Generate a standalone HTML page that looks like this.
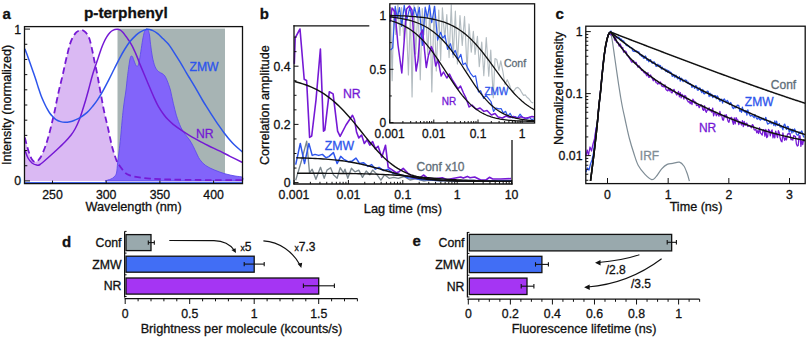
<!DOCTYPE html>
<html><head><meta charset="utf-8"><style>
html,body{margin:0;padding:0;background:#fff;overflow:hidden;}
svg{display:block;font-family:"Liberation Sans",sans-serif;}

</style></head><body>
<svg width="808" height="337" viewBox="0 0 808 337">
<rect width="808" height="337" fill="#fff"/>
<path d="M24.80,137.50C25.17,138.92 26.22,143.25 27.00,146.00C27.78,148.75 28.67,151.75 29.50,154.00C30.33,156.25 31.18,158.20 32.00,159.50C32.82,160.80 33.57,161.52 34.40,161.80C35.23,162.08 36.23,161.58 37.00,161.20C37.77,160.82 38.40,160.15 39.00,159.50C39.60,158.85 39.93,158.50 40.60,157.30C41.27,156.10 42.18,154.18 43.00,152.30C43.82,150.42 44.68,148.30 45.50,146.00C46.32,143.70 47.12,141.17 47.90,138.50C48.68,135.83 49.43,133.00 50.20,130.00C50.97,127.00 51.77,123.58 52.50,120.50C53.23,117.42 53.88,114.83 54.60,111.50C55.32,108.17 55.98,104.42 56.80,100.50C57.62,96.58 58.52,92.25 59.50,88.00C60.48,83.75 61.70,79.33 62.70,75.00C63.70,70.67 64.63,65.83 65.50,62.00C66.37,58.17 67.15,55.00 67.90,52.00C68.65,49.00 69.15,46.50 70.00,44.00C70.85,41.50 71.92,38.97 73.00,37.00C74.08,35.03 75.23,33.35 76.50,32.20C77.77,31.05 79.30,30.27 80.60,30.10C81.90,29.93 83.18,30.47 84.30,31.20C85.42,31.93 86.43,33.20 87.30,34.50C88.17,35.80 88.85,37.17 89.50,39.00C90.15,40.83 90.65,43.17 91.20,45.50C91.75,47.83 92.27,50.42 92.80,53.00C93.33,55.58 93.70,57.67 94.40,61.00C95.10,64.33 96.23,69.17 97.00,73.00C97.77,76.83 98.32,80.28 99.00,84.00C99.68,87.72 100.40,91.47 101.10,95.30C101.80,99.13 102.45,103.22 103.20,107.00C103.95,110.78 104.80,114.50 105.60,118.00C106.40,121.50 107.23,124.58 108.00,128.00C108.77,131.42 109.48,135.25 110.20,138.50C110.92,141.75 111.57,144.75 112.30,147.50C113.03,150.25 113.82,152.67 114.60,155.00C115.38,157.33 116.02,159.50 117.00,161.50C117.98,163.50 119.07,165.05 120.50,167.00C121.93,168.95 124.02,171.80 125.60,173.20C127.18,174.60 127.98,174.73 130.00,175.40C132.02,176.07 134.37,176.67 137.70,177.20C141.03,177.73 144.62,178.22 150.00,178.60C155.38,178.98 161.67,179.27 170.00,179.50C178.33,179.73 187.92,179.88 200.00,180.00C212.08,180.12 235.42,180.17 242.50,180.20L242.5,180.9L25.2,180.9Z" fill="#dab9f3"/>
<rect x="117.5" y="28.6" width="107.5" height="152.3" fill="#a7b4b4"/>
<path d="M105.00,180.90C105.50,180.75 107.00,180.32 108.00,180.00C109.00,179.68 110.00,179.50 111.00,179.00C112.00,178.50 113.08,178.00 114.00,177.00C114.92,176.00 115.90,175.33 116.50,173.00C117.10,170.67 117.18,166.50 117.60,163.00C118.02,159.50 118.50,156.20 119.00,152.00C119.50,147.80 120.10,142.80 120.60,137.80C121.10,132.80 121.57,126.63 122.00,122.00C122.43,117.37 122.78,113.67 123.20,110.00C123.62,106.33 124.03,103.33 124.50,100.00C124.97,96.67 125.53,93.67 126.00,90.00C126.47,86.33 126.90,81.42 127.30,78.00C127.70,74.58 127.98,72.50 128.40,69.50C128.82,66.50 129.37,62.20 129.80,60.00C130.23,57.80 130.58,56.90 131.00,56.30C131.42,55.70 131.87,55.87 132.30,56.40C132.73,56.93 133.07,58.15 133.60,59.50C134.13,60.85 134.88,63.33 135.50,64.50C136.12,65.67 136.72,66.83 137.30,66.50C137.88,66.17 138.42,64.97 139.00,62.50C139.58,60.03 140.20,55.43 140.80,51.70C141.40,47.97 142.03,43.30 142.60,40.10C143.17,36.90 143.70,34.25 144.20,32.50C144.70,30.75 145.13,30.18 145.60,29.60C146.07,29.02 146.55,28.85 147.00,29.00C147.45,29.15 147.88,29.50 148.30,30.50C148.72,31.50 149.12,32.65 149.50,35.00C149.88,37.35 150.12,40.93 150.60,44.60C151.08,48.27 151.65,53.30 152.40,57.00C153.15,60.70 154.07,64.37 155.10,66.80C156.13,69.23 157.42,70.47 158.60,71.60C159.78,72.73 161.17,72.88 162.20,73.60C163.23,74.32 164.00,74.80 164.80,75.90C165.60,77.00 166.37,78.77 167.00,80.20C167.63,81.63 168.03,82.87 168.60,84.50C169.17,86.13 169.87,88.00 170.40,90.00C170.93,92.00 171.32,94.28 171.80,96.50C172.28,98.72 172.80,101.13 173.30,103.30C173.80,105.47 174.30,107.52 174.80,109.50C175.30,111.48 175.68,113.20 176.30,115.20C176.92,117.20 177.77,119.53 178.50,121.50C179.23,123.47 179.95,125.42 180.70,127.00C181.45,128.58 182.25,129.77 183.00,131.00C183.75,132.23 184.10,132.90 185.20,134.40C186.30,135.90 188.33,138.15 189.60,140.00C190.87,141.85 191.83,143.70 192.80,145.50C193.77,147.30 194.23,148.47 195.40,150.80C196.57,153.13 198.07,157.03 199.80,159.50C201.53,161.97 203.32,163.83 205.80,165.60C208.28,167.37 211.48,168.73 214.70,170.10C217.92,171.47 221.72,172.82 225.10,173.80C228.48,174.78 232.10,175.42 235.00,176.00C237.90,176.58 241.25,176.48 242.50,177.30C243.75,178.12 242.50,180.30 242.50,180.90Z" fill="#8264fa" stroke="#5f4cec" stroke-width="0.9"/>
<path d="M24.80,137.50C25.17,138.92 26.22,143.25 27.00,146.00C27.78,148.75 28.67,151.75 29.50,154.00C30.33,156.25 31.18,158.20 32.00,159.50C32.82,160.80 33.57,161.52 34.40,161.80C35.23,162.08 36.23,161.58 37.00,161.20C37.77,160.82 38.40,160.15 39.00,159.50C39.60,158.85 39.93,158.50 40.60,157.30C41.27,156.10 42.18,154.18 43.00,152.30C43.82,150.42 44.68,148.30 45.50,146.00C46.32,143.70 47.12,141.17 47.90,138.50C48.68,135.83 49.43,133.00 50.20,130.00C50.97,127.00 51.77,123.58 52.50,120.50C53.23,117.42 53.88,114.83 54.60,111.50C55.32,108.17 55.98,104.42 56.80,100.50C57.62,96.58 58.52,92.25 59.50,88.00C60.48,83.75 61.70,79.33 62.70,75.00C63.70,70.67 64.63,65.83 65.50,62.00C66.37,58.17 67.15,55.00 67.90,52.00C68.65,49.00 69.15,46.50 70.00,44.00C70.85,41.50 71.92,38.97 73.00,37.00C74.08,35.03 75.23,33.35 76.50,32.20C77.77,31.05 79.30,30.27 80.60,30.10C81.90,29.93 83.18,30.47 84.30,31.20C85.42,31.93 86.43,33.20 87.30,34.50C88.17,35.80 88.85,37.17 89.50,39.00C90.15,40.83 90.65,43.17 91.20,45.50C91.75,47.83 92.27,50.42 92.80,53.00C93.33,55.58 93.70,57.67 94.40,61.00C95.10,64.33 96.23,69.17 97.00,73.00C97.77,76.83 98.32,80.28 99.00,84.00C99.68,87.72 100.40,91.47 101.10,95.30C101.80,99.13 102.45,103.22 103.20,107.00C103.95,110.78 104.80,114.50 105.60,118.00C106.40,121.50 107.23,124.58 108.00,128.00C108.77,131.42 109.48,135.25 110.20,138.50C110.92,141.75 111.57,144.75 112.30,147.50C113.03,150.25 113.82,152.67 114.60,155.00C115.38,157.33 116.02,159.50 117.00,161.50C117.98,163.50 119.07,165.05 120.50,167.00C121.93,168.95 124.02,171.80 125.60,173.20C127.18,174.60 127.98,174.73 130.00,175.40C132.02,176.07 134.37,176.67 137.70,177.20C141.03,177.73 144.62,178.22 150.00,178.60C155.38,178.98 161.67,179.27 170.00,179.50C178.33,179.73 187.92,179.88 200.00,180.00C212.08,180.12 235.42,180.17 242.50,180.20" fill="none" stroke="#7519d5" stroke-width="1.8" stroke-dasharray="6.5,3.6"/>
<path d="M24.80,150.00C25.33,151.33 26.80,155.83 28.00,158.00C29.20,160.17 30.57,161.83 32.00,163.00C33.43,164.17 35.27,164.75 36.60,165.00C37.93,165.25 38.05,165.75 40.00,164.50C41.95,163.25 45.53,159.92 48.30,157.50C51.07,155.08 53.83,152.58 56.60,150.00C59.37,147.42 62.48,144.50 64.90,142.00C67.32,139.50 69.37,137.25 71.10,135.00C72.83,132.75 73.92,131.08 75.30,128.50C76.68,125.92 78.18,122.58 79.40,119.50C80.62,116.42 81.55,113.25 82.60,110.00C83.65,106.75 84.72,103.33 85.70,100.00C86.68,96.67 87.32,94.33 88.50,90.00C89.68,85.67 91.22,79.25 92.80,74.00C94.38,68.75 96.65,62.55 98.00,58.50C99.35,54.45 99.93,52.37 100.90,49.70C101.87,47.03 102.80,44.67 103.80,42.50C104.80,40.33 105.90,38.32 106.90,36.70C107.90,35.08 108.82,33.85 109.80,32.80C110.78,31.75 111.62,30.98 112.80,30.40C113.98,29.82 115.70,29.38 116.90,29.30C118.10,29.22 119.02,29.40 120.00,29.90C120.98,30.40 121.82,31.23 122.80,32.30C123.78,33.37 124.95,35.02 125.90,36.30C126.85,37.58 127.70,38.82 128.50,40.00C129.30,41.18 129.95,42.13 130.70,43.40C131.45,44.67 132.22,46.02 133.00,47.60C133.78,49.18 134.60,51.07 135.40,52.90C136.20,54.73 137.02,56.65 137.80,58.60C138.58,60.55 138.55,60.82 140.10,64.60C141.65,68.38 144.75,75.75 147.10,81.30C149.45,86.85 152.30,93.67 154.20,97.90C156.10,102.13 156.92,103.93 158.50,106.70C160.08,109.47 162.12,112.35 163.70,114.50C165.28,116.65 166.42,117.97 168.00,119.60C169.58,121.23 170.75,122.38 173.20,124.30C175.65,126.22 179.53,128.97 182.70,131.10C185.87,133.23 189.32,135.40 192.20,137.10C195.08,138.80 197.37,139.90 200.00,141.30C202.63,142.70 204.67,143.85 208.00,145.50C211.33,147.15 216.33,149.40 220.00,151.20C223.67,153.00 226.25,154.42 230.00,156.30C233.75,158.18 240.42,161.47 242.50,162.50" fill="none" stroke="#7519d5" stroke-width="1.5"/>
<path d="M24.80,48.80C24.93,49.12 25.07,49.28 25.60,50.70C26.13,52.12 27.22,55.12 28.00,57.30C28.78,59.48 29.47,61.43 30.30,63.80C31.13,66.17 32.10,68.92 33.00,71.50C33.90,74.08 34.82,76.63 35.70,79.30C36.58,81.97 37.42,84.80 38.30,87.50C39.18,90.20 40.05,93.00 41.00,95.50C41.95,98.00 43.05,100.42 44.00,102.50C44.95,104.58 45.78,106.28 46.70,108.00C47.62,109.72 48.47,111.33 49.50,112.80C50.53,114.27 51.82,115.67 52.90,116.80C53.98,117.93 54.72,118.80 56.00,119.60C57.28,120.40 59.12,121.15 60.60,121.60C62.08,122.05 63.33,122.28 64.90,122.30C66.47,122.32 68.38,122.05 70.00,121.70C71.62,121.35 72.98,120.85 74.60,120.20C76.22,119.55 77.60,119.10 79.70,117.80C81.80,116.50 84.97,114.42 87.20,112.40C89.43,110.38 91.38,107.80 93.10,105.70C94.82,103.60 95.90,102.20 97.50,99.80C99.10,97.40 100.80,94.67 102.70,91.30C104.60,87.93 106.98,83.32 108.90,79.60C110.82,75.88 112.42,72.55 114.20,69.00C115.98,65.45 117.82,61.63 119.60,58.30C121.38,54.97 123.13,51.83 124.90,49.00C126.67,46.17 128.42,43.53 130.20,41.30C131.98,39.07 133.97,37.13 135.60,35.60C137.23,34.07 138.10,33.17 140.00,32.10C141.90,31.03 144.93,29.48 147.00,29.20C149.07,28.92 150.62,29.67 152.40,30.40C154.18,31.13 155.92,32.20 157.70,33.60C159.48,35.00 161.33,37.07 163.10,38.80C164.87,40.53 166.75,42.17 168.30,44.00C169.85,45.83 171.03,47.75 172.40,49.80C173.77,51.85 175.08,54.05 176.50,56.30C177.92,58.55 179.25,60.53 180.90,63.30C182.55,66.07 184.80,70.18 186.40,72.90C188.00,75.62 189.08,77.27 190.50,79.60C191.92,81.93 193.52,84.57 194.90,86.90C196.28,89.23 197.55,91.42 198.80,93.60C200.05,95.78 201.12,97.82 202.40,100.00C203.68,102.18 205.08,104.43 206.50,106.70C207.92,108.97 209.43,111.33 210.90,113.60C212.37,115.87 213.82,118.08 215.30,120.30C216.78,122.52 218.35,124.82 219.80,126.90C221.25,128.98 222.62,130.97 224.00,132.80C225.38,134.63 226.43,135.95 228.10,137.90C229.77,139.85 231.90,142.40 234.00,144.50C236.10,146.60 239.28,149.27 240.70,150.50C242.12,151.73 242.20,151.67 242.50,151.90" fill="none" stroke="#2d55ec" stroke-width="1.5"/>
<line x1="25" y1="182.6" x2="242" y2="182.6" stroke="#2d55ec" stroke-width="1"/>
<rect x="24.5" y="26.6" width="218.0" height="157.0" fill="none" stroke="#111" stroke-width="1.3"/>
<line x1="24.5" y1="180.9" x2="30.0" y2="180.9" stroke="#111" stroke-width="1"/>
<line x1="24.5" y1="165.72" x2="27.3" y2="165.72" stroke="#111" stroke-width="1"/>
<line x1="24.5" y1="150.54" x2="27.3" y2="150.54" stroke="#111" stroke-width="1"/>
<line x1="24.5" y1="135.36" x2="27.3" y2="135.36" stroke="#111" stroke-width="1"/>
<line x1="24.5" y1="120.18" x2="27.3" y2="120.18" stroke="#111" stroke-width="1"/>
<line x1="24.5" y1="105.0" x2="27.3" y2="105.0" stroke="#111" stroke-width="1"/>
<line x1="24.5" y1="89.82000000000001" x2="27.3" y2="89.82000000000001" stroke="#111" stroke-width="1"/>
<line x1="24.5" y1="74.64" x2="27.3" y2="74.64" stroke="#111" stroke-width="1"/>
<line x1="24.5" y1="59.459999999999994" x2="27.3" y2="59.459999999999994" stroke="#111" stroke-width="1"/>
<line x1="24.5" y1="44.28" x2="27.3" y2="44.28" stroke="#111" stroke-width="1"/>
<line x1="24.5" y1="29.099999999999994" x2="30.0" y2="29.099999999999994" stroke="#111" stroke-width="1"/>
<line x1="52.5" y1="183.6" x2="52.5" y2="180.6" stroke="#111" stroke-width="1"/>
<line x1="106.2" y1="183.6" x2="106.2" y2="180.6" stroke="#111" stroke-width="1"/>
<line x1="159.9" y1="183.6" x2="159.9" y2="180.6" stroke="#111" stroke-width="1"/>
<line x1="213.60000000000002" y1="183.6" x2="213.60000000000002" y2="180.6" stroke="#111" stroke-width="1"/>
<text x="21" y="33.6" font-size="12.3" text-anchor="end" fill="#111" stroke="#111" stroke-width="0.3" font-weight="normal" >1</text>
<text x="21" y="185.3" font-size="12.3" text-anchor="end" fill="#111" stroke="#111" stroke-width="0.3" font-weight="normal" >0</text>
<text x="52.5" y="199.2" font-size="12.3" text-anchor="middle" fill="#111" stroke="#111" stroke-width="0.3" font-weight="normal" >250</text>
<text x="106.2" y="199.2" font-size="12.3" text-anchor="middle" fill="#111" stroke="#111" stroke-width="0.3" font-weight="normal" >300</text>
<text x="159.9" y="199.2" font-size="12.3" text-anchor="middle" fill="#111" stroke="#111" stroke-width="0.3" font-weight="normal" >350</text>
<text x="213.60000000000002" y="199.2" font-size="12.3" text-anchor="middle" fill="#111" stroke="#111" stroke-width="0.3" font-weight="normal" >400</text>
<text x="133.6" y="211.2" font-size="12.7" text-anchor="middle" fill="#111" stroke="#111" stroke-width="0.3" font-weight="normal" >Wavelength (nm)</text>
<text x="0" y="0" font-size="12.6" text-anchor="middle" fill="#111" stroke="#111" stroke-width="0.3" transform="translate(11.3,104.9) rotate(-90)">Intensity (normalized)</text>
<text x="125.8" y="17.9" font-size="15.4" text-anchor="middle" fill="#111" stroke="#111" stroke-width="0.3" font-weight="bold" >p-terphenyl</text>
<text x="2.6" y="18.7" font-size="15" text-anchor="start" fill="#111" stroke="#111" stroke-width="0.3" font-weight="bold" >a</text>
<text x="204" y="70.7" font-size="12.2" text-anchor="middle" fill="#2d55ec" stroke="#2d55ec" stroke-width="0.3" font-weight="normal" >ZMW</text>
<text x="204.7" y="137.9" font-size="12.2" text-anchor="middle" fill="#7519d5" stroke="#7519d5" stroke-width="0.3" font-weight="normal" >NR</text>
<path d="M295.70,180.20L301.20,161.80L306.70,141.20L309.50,172.80L312.20,169.20L315.90,179.30L320.50,167.30L324.20,178.30L327.00,170.10L330.60,167.70L333.40,174.70L337.10,178.30L340.20,167.70L343.50,172.80L345.00,169.20L347.80,178.30L351.40,168.20L355.10,171.90L358.80,170.10L362.50,177.40L366.20,171.00L369.80,174.70L372.60,170.10L376.30,173.70L380.90,180.20L384.60,174.70L389.10,178.30L393.70,177.40L398.30,178.30L404.00,176.50L410.00,180.00L416.00,178.50L424.00,181.00L432.00,179.50L440.00,181.00L450.00,180.20L462.00,181.20L480.00,180.80L511.00,181.00" fill="none" stroke="#7b878e" stroke-width="1.35" stroke-linejoin="round"/>
<path d="M295.70,164.60L300.30,143.40L304.50,163.60L308.90,143.40L312.20,155.40L315.00,154.40L318.70,155.40L322.40,154.40L326.00,157.70L328.80,156.60L333.40,152.60L337.10,163.60L340.70,156.30L343.50,159.00L345.00,160.00L348.70,161.80L352.40,160.90L356.00,158.10L359.70,163.60L363.40,162.70L368.00,166.40L371.70,164.60L375.40,169.20L379.00,167.30L383.60,170.60L388.20,169.20L392.80,173.20L398.30,174.30L403.00,175.50L408.00,177.80L414.00,178.20L420.00,179.50L428.00,179.80L436.00,180.50L446.00,180.30L456.00,181.00L470.00,180.60L490.00,181.00L511.00,180.80" fill="none" stroke="#2d55ec" stroke-width="1.5" stroke-linejoin="round"/>
<path d="M294.30,63.90L295.20,37.80L300.00,29.00L304.20,79.30L306.60,80.50L309.60,137.40L311.70,136.00L316.00,100.00L320.40,49.00L323.50,131.20L324.80,130.20L329.30,91.80L333.10,93.90L337.60,131.20L340.10,136.40L346.00,125.00L352.50,115.30L354.50,119.80L356.60,132.30L358.80,137.90L361.60,135.10L364.30,143.40L367.10,139.70L369.80,145.20L372.60,141.60L375.40,148.90L378.10,146.20L381.80,157.20L385.50,145.20L388.20,167.30L391.00,169.20L393.70,171.00L396.50,172.80L399.10,171.70L403.20,168.40L408.00,173.30L412.90,177.40L419.50,178.20L423.50,175.00L427.60,178.20L434.10,178.70L442.30,177.70L447.20,179.80L451.30,178.70L456.70,177.70L460.70,177.00L463.30,178.10L467.40,176.40L470.00,177.70L474.70,177.00L480.70,180.00L486.00,180.00L489.40,177.30L492.70,179.00L500.70,179.00L511.00,178.60" fill="none" stroke="#7519d5" stroke-width="1.6" stroke-linejoin="round"/>
<path d="M294.60,81.55L297.31,82.23L300.02,82.98L302.73,83.80L305.45,84.72L308.16,85.73L310.87,86.84L313.58,88.06L316.29,89.40L319.00,90.86L321.71,92.46L324.42,94.19L327.13,96.07L329.85,98.10L332.56,100.28L335.27,102.62L337.98,105.11L340.69,107.75L343.40,110.53L346.11,113.45L348.83,116.50L351.54,119.65L354.25,122.89L356.96,126.20L359.67,129.56L362.38,132.94L365.09,136.32L367.80,139.66L370.51,142.95L373.23,146.15L375.94,149.24L378.65,152.20L381.36,155.02L384.07,157.68L386.78,160.17L389.49,162.48L392.21,164.61L394.92,166.57L397.63,168.34L400.34,169.95L403.05,171.39L405.76,172.68L408.47,173.83L411.18,174.84L413.89,175.74L416.61,176.52L419.32,177.20L422.03,177.80L424.74,178.32L427.45,178.76L430.16,179.15L432.87,179.48L435.59,179.77L438.30,180.01L441.01,180.22L443.72,180.40L446.43,180.55L449.14,180.68L451.85,180.79L454.56,180.88L457.27,180.96L459.99,181.03L462.70,181.09L465.41,181.14L468.12,181.18L470.83,181.21L473.54,181.24L476.25,181.27L478.97,181.29L481.68,181.30L484.39,181.32L487.10,181.33L489.81,181.34L492.52,181.35L495.23,181.36L497.94,181.37L500.65,181.37L503.37,181.38L506.08,181.38L508.79,181.38L511.50,181.39" fill="none" stroke="#111" stroke-width="1.4"/>
<path d="M296.30,157.78L298.99,157.85L301.68,157.93L304.37,158.01L307.06,158.11L309.75,158.21L312.44,158.33L315.13,158.46L317.82,158.60L320.51,158.76L323.20,158.94L325.89,159.14L328.58,159.35L331.27,159.59L333.96,159.85L336.65,160.14L339.34,160.46L342.03,160.80L344.72,161.17L347.41,161.58L350.10,162.02L352.79,162.49L355.48,163.00L358.17,163.54L360.86,164.11L363.55,164.72L366.24,165.36L368.93,166.04L371.62,166.74L374.31,167.46L377.00,168.20L379.69,168.95L382.38,169.72L385.07,170.49L387.76,171.25L390.45,172.01L393.14,172.75L395.83,173.47L398.52,174.17L401.21,174.84L403.90,175.47L406.59,176.07L409.28,176.63L411.97,177.15L414.66,177.63L417.35,178.06L420.04,178.46L422.73,178.82L425.42,179.14L428.11,179.43L430.80,179.69L433.49,179.92L436.18,180.12L438.87,180.30L441.56,180.45L444.25,180.58L446.94,180.70L449.63,180.80L452.32,180.89L455.01,180.96L457.70,181.03L460.39,181.08L463.08,181.13L465.77,181.17L468.46,181.21L471.15,181.23L473.84,181.26L476.53,181.28L479.22,181.30L481.91,181.31L484.60,181.33L487.29,181.34L489.98,181.35L492.67,181.36L495.36,181.36L498.05,181.37L500.74,181.37L503.43,181.38L506.12,181.38L508.81,181.38L511.50,181.39" fill="none" stroke="#111" stroke-width="1.4"/>
<path d="M297.00,173.24L299.68,173.25L302.36,173.25L305.04,173.26L307.73,173.26L310.41,173.27L313.09,173.28L315.77,173.29L318.45,173.30L321.13,173.31L323.81,173.32L326.49,173.34L329.18,173.36L331.86,173.37L334.54,173.39L337.22,173.42L339.90,173.44L342.58,173.47L345.26,173.50L347.94,173.54L350.62,173.57L353.31,173.62L355.99,173.66L358.67,173.72L361.35,173.77L364.03,173.84L366.71,173.91L369.39,173.98L372.07,174.07L374.76,174.16L377.44,174.26L380.12,174.37L382.80,174.49L385.48,174.62L388.16,174.75L390.84,174.90L393.52,175.06L396.21,175.23L398.89,175.41L401.57,175.60L404.25,175.79L406.93,176.00L409.61,176.21L412.29,176.43L414.98,176.65L417.66,176.88L420.34,177.11L423.02,177.35L425.70,177.58L428.38,177.81L431.06,178.04L433.74,178.26L436.43,178.48L439.11,178.69L441.79,178.89L444.47,179.08L447.15,179.27L449.83,179.44L452.51,179.60L455.19,179.76L457.88,179.90L460.56,180.04L463.24,180.16L465.92,180.27L468.60,180.38L471.28,180.48L473.96,180.57L476.64,180.65L479.32,180.72L482.01,180.79L484.69,180.85L487.37,180.91L490.05,180.96L492.73,181.00L495.41,181.04L498.09,181.08L500.77,181.11L503.46,181.14L506.14,181.17L508.82,181.19L511.50,181.21" fill="none" stroke="#111" stroke-width="1.4"/>
<line x1="293.4" y1="25.9" x2="369.5" y2="25.9" stroke="#111" stroke-width="1.3"/>
<line x1="294" y1="25.3" x2="294" y2="184.6" stroke="#111" stroke-width="1.3"/>
<line x1="293.4" y1="184" x2="512.6" y2="184" stroke="#111" stroke-width="1.3"/>
<line x1="512" y1="139.5" x2="512" y2="184.6" stroke="#111" stroke-width="1.3"/>
<line x1="294" y1="182.6" x2="298.5" y2="182.6" stroke="#111" stroke-width="1"/>
<line x1="294" y1="168.04999999999998" x2="296.5" y2="168.04999999999998" stroke="#111" stroke-width="1"/>
<line x1="294" y1="153.5" x2="296.5" y2="153.5" stroke="#111" stroke-width="1"/>
<line x1="294" y1="138.95" x2="296.5" y2="138.95" stroke="#111" stroke-width="1"/>
<line x1="294" y1="124.39999999999999" x2="298.5" y2="124.39999999999999" stroke="#111" stroke-width="1"/>
<line x1="294" y1="109.85" x2="296.5" y2="109.85" stroke="#111" stroke-width="1"/>
<line x1="294" y1="95.29999999999998" x2="296.5" y2="95.29999999999998" stroke="#111" stroke-width="1"/>
<line x1="294" y1="80.74999999999999" x2="296.5" y2="80.74999999999999" stroke="#111" stroke-width="1"/>
<line x1="294" y1="66.19999999999999" x2="298.5" y2="66.19999999999999" stroke="#111" stroke-width="1"/>
<line x1="294" y1="51.64999999999998" x2="296.5" y2="51.64999999999998" stroke="#111" stroke-width="1"/>
<line x1="294" y1="37.099999999999994" x2="296.5" y2="37.099999999999994" stroke="#111" stroke-width="1"/>
<line x1="294.0" y1="184" x2="294.0" y2="180" stroke="#111" stroke-width="1"/>
<line x1="310.37603176412057" y1="184" x2="310.37603176412057" y2="181.8" stroke="#111" stroke-width="1"/>
<line x1="319.9553962567496" y1="184" x2="319.9553962567496" y2="181.8" stroke="#111" stroke-width="1"/>
<line x1="326.75206352824114" y1="184" x2="326.75206352824114" y2="181.8" stroke="#111" stroke-width="1"/>
<line x1="332.0239682358794" y1="184" x2="332.0239682358794" y2="181.8" stroke="#111" stroke-width="1"/>
<line x1="336.3314280208702" y1="184" x2="336.3314280208702" y2="181.8" stroke="#111" stroke-width="1"/>
<line x1="339.9733333767756" y1="184" x2="339.9733333767756" y2="181.8" stroke="#111" stroke-width="1"/>
<line x1="343.1280952923617" y1="184" x2="343.1280952923617" y2="181.8" stroke="#111" stroke-width="1"/>
<line x1="345.91079251349925" y1="184" x2="345.91079251349925" y2="181.8" stroke="#111" stroke-width="1"/>
<line x1="348.4" y1="184" x2="348.4" y2="180" stroke="#111" stroke-width="1"/>
<line x1="364.7760317641206" y1="184" x2="364.7760317641206" y2="181.8" stroke="#111" stroke-width="1"/>
<line x1="374.3553962567496" y1="184" x2="374.3553962567496" y2="181.8" stroke="#111" stroke-width="1"/>
<line x1="381.1520635282412" y1="184" x2="381.1520635282412" y2="181.8" stroke="#111" stroke-width="1"/>
<line x1="386.42396823587944" y1="184" x2="386.42396823587944" y2="181.8" stroke="#111" stroke-width="1"/>
<line x1="390.7314280208702" y1="184" x2="390.7314280208702" y2="181.8" stroke="#111" stroke-width="1"/>
<line x1="394.3733333767756" y1="184" x2="394.3733333767756" y2="181.8" stroke="#111" stroke-width="1"/>
<line x1="397.52809529236174" y1="184" x2="397.52809529236174" y2="181.8" stroke="#111" stroke-width="1"/>
<line x1="400.3107925134993" y1="184" x2="400.3107925134993" y2="181.8" stroke="#111" stroke-width="1"/>
<line x1="402.8" y1="184" x2="402.8" y2="180" stroke="#111" stroke-width="1"/>
<line x1="419.1760317641206" y1="184" x2="419.1760317641206" y2="181.8" stroke="#111" stroke-width="1"/>
<line x1="428.75539625674963" y1="184" x2="428.75539625674963" y2="181.8" stroke="#111" stroke-width="1"/>
<line x1="435.55206352824115" y1="184" x2="435.55206352824115" y2="181.8" stroke="#111" stroke-width="1"/>
<line x1="440.8239682358794" y1="184" x2="440.8239682358794" y2="181.8" stroke="#111" stroke-width="1"/>
<line x1="445.1314280208702" y1="184" x2="445.1314280208702" y2="181.8" stroke="#111" stroke-width="1"/>
<line x1="448.77333337677555" y1="184" x2="448.77333337677555" y2="181.8" stroke="#111" stroke-width="1"/>
<line x1="451.9280952923617" y1="184" x2="451.9280952923617" y2="181.8" stroke="#111" stroke-width="1"/>
<line x1="454.71079251349926" y1="184" x2="454.71079251349926" y2="181.8" stroke="#111" stroke-width="1"/>
<line x1="457.2" y1="184" x2="457.2" y2="180" stroke="#111" stroke-width="1"/>
<line x1="473.57603176412056" y1="184" x2="473.57603176412056" y2="181.8" stroke="#111" stroke-width="1"/>
<line x1="483.15539625674967" y1="184" x2="483.15539625674967" y2="181.8" stroke="#111" stroke-width="1"/>
<line x1="489.9520635282412" y1="184" x2="489.9520635282412" y2="181.8" stroke="#111" stroke-width="1"/>
<line x1="495.2239682358794" y1="184" x2="495.2239682358794" y2="181.8" stroke="#111" stroke-width="1"/>
<line x1="499.5314280208702" y1="184" x2="499.5314280208702" y2="181.8" stroke="#111" stroke-width="1"/>
<line x1="503.17333337677553" y1="184" x2="503.17333337677553" y2="181.8" stroke="#111" stroke-width="1"/>
<line x1="506.3280952923617" y1="184" x2="506.3280952923617" y2="181.8" stroke="#111" stroke-width="1"/>
<line x1="509.1107925134993" y1="184" x2="509.1107925134993" y2="181.8" stroke="#111" stroke-width="1"/>
<line x1="511.6" y1="184" x2="511.6" y2="180" stroke="#111" stroke-width="1"/>
<line x1="511.6" y1="184" x2="511.6" y2="180" stroke="#111" stroke-width="1"/>
<text x="290.5" y="186.9" font-size="12.3" text-anchor="end" fill="#111" stroke="#111" stroke-width="0.3" font-weight="normal" >0</text>
<text x="290.5" y="128.7" font-size="12.3" text-anchor="end" fill="#111" stroke="#111" stroke-width="0.3" font-weight="normal" >0.2</text>
<text x="290.5" y="70.49999999999999" font-size="12.3" text-anchor="end" fill="#111" stroke="#111" stroke-width="0.3" font-weight="normal" >0.4</text>
<text x="294.0" y="198.9" font-size="12.3" text-anchor="middle" fill="#111" stroke="#111" stroke-width="0.3" font-weight="normal" >0.001</text>
<text x="348.4" y="198.9" font-size="12.3" text-anchor="middle" fill="#111" stroke="#111" stroke-width="0.3" font-weight="normal" >0.01</text>
<text x="402.8" y="198.9" font-size="12.3" text-anchor="middle" fill="#111" stroke="#111" stroke-width="0.3" font-weight="normal" >0.1</text>
<text x="457.2" y="198.9" font-size="12.3" text-anchor="middle" fill="#111" stroke="#111" stroke-width="0.3" font-weight="normal" >1</text>
<text x="511.6" y="198.9" font-size="12.3" text-anchor="middle" fill="#111" stroke="#111" stroke-width="0.3" font-weight="normal" >10</text>
<text x="402.9" y="213" font-size="12.8" text-anchor="middle" fill="#111" stroke="#111" stroke-width="0.3" font-weight="normal" >Lag time (ms)</text>
<text x="0" y="0" font-size="12.6" text-anchor="middle" fill="#111" stroke="#111" stroke-width="0.3" transform="translate(268.6,105.2) rotate(-90)">Correlation amplitude</text>
<text x="351.8" y="98" font-size="12.3" text-anchor="middle" fill="#7519d5" stroke="#7519d5" stroke-width="0.3" font-weight="normal" >NR</text>
<text x="339.5" y="149.8" font-size="12.3" text-anchor="middle" fill="#2d55ec" stroke="#2d55ec" stroke-width="0.3" font-weight="normal" >ZMW</text>
<text x="440.5" y="170.5" font-size="12" text-anchor="middle" fill="#5f6e78" stroke="#5f6e78" stroke-width="0.3" font-weight="normal" >Conf x10</text>
<text x="259.8" y="18.7" font-size="15" text-anchor="start" fill="#111" stroke="#111" stroke-width="0.3" font-weight="bold" >b</text>
<rect x="369.6" y="0" width="170" height="140" fill="#fff"/>
<path d="M390.40,6.93L392.15,80.77L393.82,8.52L395.79,34.52L397.90,4.78L399.93,35.45L401.62,7.68L404.05,39.66L405.87,9.21L408.42,75.01L410.42,11.82L412.06,96.96L413.95,5.58L415.67,54.06L418.09,5.86L420.27,79.84L422.24,8.61L423.90,34.65L425.71,9.60L427.74,54.50L429.92,7.90L431.82,91.96L434.12,6.33L436.29,70.97L438.77,9.97L440.66,60.53L442.38,7.77L444.73,38.68L446.82,14.67L449.09,57.57L451.26,4.89L453.18,57.57L455.37,11.17L457.43,64.03L459.97,15.51L462.24,45.45L464.54,16.45L467.13,70.68L469.02,23.95L471.28,52.15L473.35,31.25L475.06,54.35L477.43,36.26L479.28,66.59L481.75,42.12L483.80,75.75L486.28,37.62L488.75,76.23L490.76,50.13L493.25,97.64L495.00,58.55L496.83,59.53L498.91,70.33L500.78,60.93L502.80,71.18L504.96,84.53L507.25,79.66L509.47,84.76L511.12,89.66L513.50,91.46L515.90,88.09L517.90,87.35L520.14,89.64L521.80,92.68L523.56,95.34L525.22,94.93L526.97,97.23L528.93,98.82L531.41,102.22L533.16,102.86" fill="none" stroke="#b3bcc1" stroke-width="1.15" stroke-linejoin="round"/>
<path d="M390.60,50.00L392.72,47.91L395.19,6.45L397.27,17.80L399.54,7.49L401.70,26.31L404.23,5.44L406.77,20.39L409.75,7.59L412.45,18.13L414.61,7.32L417.15,17.62L419.37,7.43L422.35,45.48L425.17,7.22L427.40,17.98L429.43,5.08L431.71,22.70L434.66,6.34L437.60,40.10L440.56,32.25L442.78,38.10L444.97,35.29L447.60,49.35L450.44,43.71L453.09,54.33L455.18,50.29L458.09,59.19L460.84,54.39L463.01,64.69L465.35,63.09L468.32,69.14L470.72,73.69L473.44,76.81L475.57,75.83L478.48,91.92L480.62,90.70L483.60,98.35L485.95,95.43L488.08,97.88L491.06,101.75L493.58,111.48L496.02,107.95L498.84,108.81L501.09,108.52L503.33,112.99L505.59,111.33L507.72,116.25L510.08,113.26L512.66,117.93L515.08,116.55L517.58,117.73L520.11,114.13L522.55,117.28L524.55,117.87L526.72,118.97L529.45,117.48L531.78,119.64L534.33,118.76" fill="none" stroke="#2d55ec" stroke-width="1.2" stroke-linejoin="round"/>
<path d="M390.30,22.00L392.00,8.00L395.00,12.00L398.00,45.00L401.80,73.00L403.50,50.00L406.60,9.00L409.40,6.00L412.00,10.00L414.50,50.00L416.10,71.00L418.00,60.00L420.00,35.00L422.50,30.00L424.50,50.00L426.30,67.50L428.40,55.60L431.40,46.60L433.50,52.00L435.70,66.00L438.00,60.00L441.20,76.00L443.50,72.00L446.80,78.00L449.50,74.00L452.40,80.00L455.00,84.00L458.00,89.00L460.50,86.00L463.50,93.00L466.00,98.00L469.10,107.00L472.00,105.00L476.50,109.50L480.00,108.00L483.90,111.40L487.00,110.50L491.40,115.00L495.00,113.50L498.00,117.00L502.50,118.00L506.00,116.00L510.00,117.50L513.60,116.50L517.00,118.30L521.00,116.80L525.00,118.20L528.50,117.50L532.00,116.50L534.40,117.00" fill="none" stroke="#7519d5" stroke-width="1.5" stroke-linejoin="round"/>
<path d="M390.00,15.46L391.81,15.50L393.61,15.55L395.42,15.61L397.23,15.67L399.03,15.73L400.84,15.80L402.64,15.88L404.45,15.97L406.26,16.06L408.06,16.17L409.87,16.28L411.68,16.41L413.48,16.54L415.29,16.69L417.09,16.86L418.90,17.04L420.71,17.24L422.51,17.45L424.32,17.69L426.12,17.94L427.93,18.23L429.74,18.53L431.54,18.87L433.35,19.24L435.16,19.64L436.96,20.07L438.77,20.55L440.57,21.06L442.38,21.62L444.19,22.23L445.99,22.89L447.80,23.61L449.61,24.38L451.41,25.22L453.22,26.13L455.02,27.10L456.83,28.14L458.64,29.27L460.44,30.47L462.25,31.76L464.06,33.13L465.86,34.59L467.67,36.14L469.48,37.78L471.28,39.51L473.09,41.33L474.89,43.24L476.70,45.24L478.51,47.32L480.31,49.47L482.12,51.70L483.93,54.00L485.73,56.36L487.54,58.76L489.34,61.21L491.15,63.68L492.96,66.18L494.76,68.69L496.57,71.19L498.38,73.69L500.18,76.15L501.99,78.59L503.79,80.98L505.60,83.32L507.41,85.59L509.21,87.80L511.02,89.94L512.83,91.99L514.63,93.96L516.44,95.84L518.24,97.63L520.05,99.34L521.86,100.95L523.66,102.47L525.47,103.90L527.27,105.25L529.08,106.51L530.89,107.69L532.69,108.79L534.50,109.81" fill="none" stroke="#111" stroke-width="1.3"/>
<path d="M390.00,16.98L391.81,17.18L393.61,17.39L395.42,17.62L397.23,17.87L399.03,18.15L400.84,18.45L402.64,18.78L404.45,19.14L406.26,19.53L408.06,19.96L409.87,20.43L411.68,20.94L413.48,21.50L415.29,22.11L417.09,22.76L418.90,23.48L420.71,24.25L422.51,25.09L424.32,26.00L426.12,26.99L427.93,28.05L429.74,29.19L431.54,30.42L433.35,31.74L435.16,33.15L436.96,34.66L438.77,36.27L440.57,37.98L442.38,39.80L444.19,41.72L445.99,43.74L447.80,45.87L449.61,48.10L451.41,50.42L453.22,52.84L455.02,55.34L456.83,57.92L458.64,60.56L460.44,63.26L462.25,66.01L464.06,68.78L465.86,71.58L467.67,74.37L469.48,77.16L471.28,79.91L473.09,82.63L474.89,85.28L476.70,87.87L478.51,90.38L480.31,92.80L482.12,95.11L483.93,97.32L485.73,99.41L487.54,101.38L489.34,103.23L491.15,104.96L492.96,106.57L494.76,108.05L496.57,109.42L498.38,110.68L500.18,111.83L501.99,112.88L503.79,113.83L505.60,114.69L507.41,115.47L509.21,116.17L511.02,116.79L512.83,117.36L514.63,117.86L516.44,118.30L518.24,118.70L520.05,119.05L521.86,119.36L523.66,119.63L525.47,119.88L527.27,120.09L529.08,120.28L530.89,120.44L532.69,120.59L534.50,120.72" fill="none" stroke="#111" stroke-width="1.3"/>
<path d="M390.00,20.48L391.81,21.00L393.61,21.56L395.42,22.17L397.23,22.83L399.03,23.55L400.84,24.34L402.64,25.18L404.45,26.10L406.26,27.09L408.06,28.16L409.87,29.31L411.68,30.55L413.48,31.87L415.29,33.30L417.09,34.82L418.90,36.44L420.71,38.16L422.51,39.99L424.32,41.92L426.12,43.95L427.93,46.09L429.74,48.33L431.54,50.66L433.35,53.09L435.16,55.60L436.96,58.18L438.77,60.83L440.57,63.54L442.38,66.29L444.19,69.07L445.99,71.86L447.80,74.65L449.61,77.44L451.41,80.19L453.22,82.90L455.02,85.55L456.83,88.13L458.64,90.63L460.44,93.03L462.25,95.34L464.06,97.53L465.86,99.61L467.67,101.57L469.48,103.41L471.28,105.13L473.09,106.72L474.89,108.20L476.70,109.56L478.51,110.80L480.31,111.94L482.12,112.98L483.93,113.92L485.73,114.78L487.54,115.54L489.34,116.23L491.15,116.85L492.96,117.41L494.76,117.90L496.57,118.34L498.38,118.73L500.18,119.08L501.99,119.39L503.79,119.66L505.60,119.90L507.41,120.11L509.21,120.30L511.02,120.46L512.83,120.60L514.63,120.73L516.44,120.84L518.24,120.94L520.05,121.02L521.86,121.10L523.66,121.16L525.47,121.22L527.27,121.27L529.08,121.31L530.89,121.35L532.69,121.38L534.50,121.41" fill="none" stroke="#111" stroke-width="1.3"/>
<rect x="389.8" y="3.8" width="144.8" height="119.2" fill="none" stroke="#111" stroke-width="1.3"/>
<line x1="389.8" y1="122.6" x2="393.5" y2="122.6" stroke="#111" stroke-width="1"/>
<line x1="389.8" y1="69.3" x2="393.5" y2="69.3" stroke="#111" stroke-width="1"/>
<line x1="389.8" y1="16.0" x2="393.5" y2="16.0" stroke="#111" stroke-width="1"/>
<line x1="389.8" y1="95.94999999999999" x2="391.8" y2="95.94999999999999" stroke="#111" stroke-width="1"/>
<line x1="389.8" y1="42.650000000000006" x2="391.8" y2="42.650000000000006" stroke="#111" stroke-width="1"/>
<line x1="389.6" y1="123" x2="389.6" y2="119.5" stroke="#111" stroke-width="1"/>
<line x1="402.905525808348" y1="123" x2="402.905525808348" y2="121" stroke="#111" stroke-width="1"/>
<line x1="410.6887594586091" y1="123" x2="410.6887594586091" y2="121" stroke="#111" stroke-width="1"/>
<line x1="416.21105161669595" y1="123" x2="416.21105161669595" y2="121" stroke="#111" stroke-width="1"/>
<line x1="420.49447419165205" y1="123" x2="420.49447419165205" y2="121" stroke="#111" stroke-width="1"/>
<line x1="423.9942852669571" y1="123" x2="423.9942852669571" y2="121" stroke="#111" stroke-width="1"/>
<line x1="426.9533333686302" y1="123" x2="426.9533333686302" y2="121" stroke="#111" stroke-width="1"/>
<line x1="429.5165774250439" y1="123" x2="429.5165774250439" y2="121" stroke="#111" stroke-width="1"/>
<line x1="431.7775189172182" y1="123" x2="431.7775189172182" y2="121" stroke="#111" stroke-width="1"/>
<line x1="433.8" y1="123" x2="433.8" y2="119.5" stroke="#111" stroke-width="1"/>
<line x1="447.105525808348" y1="123" x2="447.105525808348" y2="121" stroke="#111" stroke-width="1"/>
<line x1="454.8887594586091" y1="123" x2="454.8887594586091" y2="121" stroke="#111" stroke-width="1"/>
<line x1="460.411051616696" y1="123" x2="460.411051616696" y2="121" stroke="#111" stroke-width="1"/>
<line x1="464.69447419165203" y1="123" x2="464.69447419165203" y2="121" stroke="#111" stroke-width="1"/>
<line x1="468.1942852669571" y1="123" x2="468.1942852669571" y2="121" stroke="#111" stroke-width="1"/>
<line x1="471.1533333686302" y1="123" x2="471.1533333686302" y2="121" stroke="#111" stroke-width="1"/>
<line x1="473.71657742504397" y1="123" x2="473.71657742504397" y2="121" stroke="#111" stroke-width="1"/>
<line x1="475.97751891721816" y1="123" x2="475.97751891721816" y2="121" stroke="#111" stroke-width="1"/>
<line x1="478.0" y1="123" x2="478.0" y2="119.5" stroke="#111" stroke-width="1"/>
<line x1="491.30552580834797" y1="123" x2="491.30552580834797" y2="121" stroke="#111" stroke-width="1"/>
<line x1="499.0887594586091" y1="123" x2="499.0887594586091" y2="121" stroke="#111" stroke-width="1"/>
<line x1="504.611051616696" y1="123" x2="504.611051616696" y2="121" stroke="#111" stroke-width="1"/>
<line x1="508.8944741916521" y1="123" x2="508.8944741916521" y2="121" stroke="#111" stroke-width="1"/>
<line x1="512.3942852669571" y1="123" x2="512.3942852669571" y2="121" stroke="#111" stroke-width="1"/>
<line x1="515.3533333686302" y1="123" x2="515.3533333686302" y2="121" stroke="#111" stroke-width="1"/>
<line x1="517.9165774250439" y1="123" x2="517.9165774250439" y2="121" stroke="#111" stroke-width="1"/>
<line x1="520.1775189172182" y1="123" x2="520.1775189172182" y2="121" stroke="#111" stroke-width="1"/>
<line x1="522.2" y1="123" x2="522.2" y2="119.5" stroke="#111" stroke-width="1"/>
<text x="386.3" y="20.3" font-size="12" text-anchor="end" fill="#111" stroke="#111" stroke-width="0.3" font-weight="normal" >1</text>
<text x="386.3" y="73.6" font-size="12" text-anchor="end" fill="#111" stroke="#111" stroke-width="0.3" font-weight="normal" >0.5</text>
<text x="386.3" y="126.69999999999999" font-size="12" text-anchor="end" fill="#111" stroke="#111" stroke-width="0.3" font-weight="normal" >0</text>
<text x="389.6" y="137.5" font-size="12" text-anchor="middle" fill="#111" stroke="#111" stroke-width="0.3" font-weight="normal" >0.001</text>
<text x="433.8" y="137.5" font-size="12" text-anchor="middle" fill="#111" stroke="#111" stroke-width="0.3" font-weight="normal" >0.01</text>
<text x="478.0" y="137.5" font-size="12" text-anchor="middle" fill="#111" stroke="#111" stroke-width="0.3" font-weight="normal" >0.1</text>
<text x="522.2" y="137.5" font-size="12" text-anchor="middle" fill="#111" stroke="#111" stroke-width="0.3" font-weight="normal" >1</text>
<text x="515" y="67.2" font-size="10.5" text-anchor="middle" fill="#5f6e78" stroke="#5f6e78" stroke-width="0.3" font-weight="normal" >Conf</text>
<text x="496.4" y="94.9" font-size="10" text-anchor="middle" fill="#2d55ec" stroke="#2d55ec" stroke-width="0.3" font-weight="normal" >ZMW</text>
<text x="448.9" y="105" font-size="10" text-anchor="middle" fill="#7519d5" stroke="#7519d5" stroke-width="0.3" font-weight="normal" >NR</text>
<path d="M610.70,32.10C611.00,33.75 611.87,38.02 612.50,42.00C613.13,45.98 613.83,51.33 614.50,56.00C615.17,60.67 615.80,65.17 616.50,70.00C617.20,74.83 618.02,80.50 618.70,85.00C619.38,89.50 619.97,93.25 620.60,97.00C621.23,100.75 621.77,103.83 622.50,107.50C623.23,111.17 623.85,113.83 625.00,119.00C626.15,124.17 627.92,132.75 629.40,138.50C630.88,144.25 632.42,149.00 633.90,153.50C635.38,158.00 636.45,162.02 638.30,165.50C640.15,168.98 642.77,172.05 645.00,174.40C647.23,176.75 649.85,179.22 651.70,179.60C653.55,179.98 654.43,178.48 656.10,176.70C657.77,174.92 659.85,170.95 661.70,168.90C663.55,166.85 665.35,165.33 667.20,164.40C669.05,163.47 670.77,163.67 672.80,163.30C674.83,162.93 677.55,161.75 679.40,162.20C681.25,162.65 682.60,164.12 683.90,166.00C685.20,167.88 686.28,170.98 687.20,173.50C688.12,176.02 689.03,179.83 689.40,181.10" fill="none" stroke="#7f8d96" stroke-width="1.2"/>
<path d="M586.00,172.00L587.50,168.00L589.00,170.00L590.50,164.00L592.00,160.00L593.50,153.00L596.00,128.40L597.20,124.33L598.40,112.21L599.60,99.81L600.80,88.80L602.00,76.21L603.20,63.83L604.40,54.28L605.60,46.53L606.80,41.09L608.00,35.22L609.20,32.84L611.00,31.05L611.90,34.23L612.80,34.57L613.70,33.08L614.60,37.00L615.50,37.66L616.40,37.32L617.30,37.90L618.20,37.05L619.10,37.27L620.00,39.71L620.90,38.81L621.80,39.95L622.70,40.81L623.60,40.77L624.50,42.93L625.40,43.52L626.30,45.56L627.20,45.13L628.10,46.20L629.00,46.39L629.90,47.59L630.80,47.55L631.70,47.59L632.60,50.68L633.50,51.31L634.40,51.42L635.30,51.61L636.20,50.90L637.10,51.24L638.00,52.07L638.90,51.94L639.80,54.93L640.70,54.29L641.60,56.44L642.50,55.46L643.40,58.05L644.30,58.28L645.20,55.89L646.10,57.22L647.00,60.31L647.90,59.32L648.80,61.76L649.70,60.23L650.60,59.62L651.50,62.24L652.40,63.37L653.30,62.04L654.20,61.92L655.10,63.41L656.00,66.37L656.90,66.15L657.80,64.25L658.70,65.29L659.60,65.27L660.50,65.65L661.40,69.10L662.30,67.19L663.20,69.25L664.10,69.35L665.00,68.85L665.90,71.57L666.80,69.66L667.70,72.29L668.60,70.64L669.50,72.42L670.40,72.08L671.30,72.83L672.20,76.31L673.10,76.12L674.00,74.52L674.90,77.52L675.80,75.13L676.70,76.43L677.60,78.94L678.50,78.53L679.40,76.65L680.30,81.08L681.20,78.14L682.10,78.83L683.00,81.63L683.90,80.13L684.80,80.47L685.70,79.94L686.60,80.50L687.50,83.25L688.40,82.16L689.30,84.31L690.20,83.72L691.10,84.58L692.00,87.45L692.90,85.68L693.80,86.59L694.70,88.47L695.60,85.66L696.50,85.99L697.40,90.12L698.30,90.15L699.20,87.84L700.10,88.01L701.00,91.19L701.90,92.65L702.80,89.41L703.70,93.65L704.60,93.77L705.50,92.83L706.40,92.36L707.30,91.19L708.20,91.30L709.10,96.51L710.00,93.22L710.90,96.09L711.80,94.20L712.70,97.62L713.60,96.87L714.50,95.71L715.40,95.53L716.30,98.87L717.20,95.82L718.10,97.11L719.00,99.33L719.90,101.36L720.80,100.51L721.70,99.12L722.60,103.05L723.50,99.55L724.40,98.93L725.30,100.76L726.20,102.17L727.10,100.43L728.00,101.50L728.90,103.01L729.80,104.58L730.70,102.49L731.60,104.23L732.50,107.69L733.40,108.63L734.30,107.18L735.20,107.80L736.10,107.59L737.00,105.40L737.90,105.19L738.80,105.49L739.70,111.18L740.60,110.35L741.50,112.33L742.40,107.09L743.30,111.19L744.20,110.67L745.10,112.58L746.00,110.47L746.90,115.04L747.80,109.77L748.70,113.06L749.60,114.64L750.50,116.05L751.40,115.44L752.30,115.62L753.20,116.58L754.10,117.74L755.00,114.58L755.90,117.08L756.80,118.84L757.70,119.04L758.60,116.52L759.50,119.31L760.40,120.16L761.30,118.67L762.20,119.38L763.10,118.18L764.00,119.86L764.90,120.41L765.80,117.29L766.70,121.36L767.60,124.08L768.50,123.70L769.40,123.06L770.30,121.15L771.20,123.85L772.10,123.17L773.00,122.58L773.90,125.65L774.80,120.86L775.70,125.77L776.60,121.17L777.50,125.46L778.40,124.98L779.30,123.59L780.20,127.19L781.10,126.14L782.00,127.30L782.90,129.80L783.80,125.46L784.70,124.06L785.60,126.45L786.50,129.47L787.40,126.41L788.30,126.50L789.20,132.12L790.10,130.69L791.00,129.44L791.90,133.03L792.80,129.25L793.70,132.05L794.60,128.95L795.50,130.97L796.40,134.05L797.30,135.18L798.20,135.25L799.10,131.88L800.00,133.68L800.90,131.99L801.80,130.94L802.70,133.95L803.60,136.83L804.50,137.23" fill="none" stroke="#2d55ec" stroke-width="1.25" stroke-linejoin="round"/>
<path d="M586.00,156.00L587.20,150.00L588.50,155.00L590.00,147.00L591.50,151.00L593.00,144.00L594.50,139.00L596.00,128.92L597.20,125.11L598.40,110.91L599.60,99.21L600.80,88.69L602.00,75.59L603.20,63.89L604.40,54.09L605.60,46.52L606.80,40.49L608.00,35.66L609.20,33.91L611.00,35.00L611.90,34.04L612.80,33.74L613.70,34.92L614.60,40.06L615.50,37.66L616.40,41.97L617.30,42.64L618.20,42.73L619.10,46.15L620.00,43.90L620.90,45.63L621.80,48.25L622.70,47.48L623.60,52.24L624.50,50.69L625.40,51.35L626.30,52.00L627.20,55.68L628.10,55.89L629.00,57.73L629.90,58.84L630.80,60.51L631.70,62.14L632.60,61.85L633.50,60.59L634.40,62.74L635.30,62.29L636.20,62.40L637.10,65.33L638.00,67.26L638.90,65.68L639.80,66.91L640.70,68.03L641.60,70.42L642.50,70.39L643.40,71.59L644.30,73.01L645.20,72.04L646.10,74.66L647.00,75.94L647.90,72.68L648.80,77.49L649.70,77.16L650.60,74.89L651.50,77.16L652.40,78.69L653.30,80.79L654.20,78.70L655.10,80.32L656.00,82.57L656.90,82.77L657.80,84.17L658.70,82.22L659.60,83.82L660.50,81.99L661.40,85.39L662.30,86.51L663.20,86.12L664.10,87.11L665.00,84.84L665.90,89.29L666.80,90.31L667.70,90.86L668.60,88.87L669.50,90.89L670.40,88.67L671.30,92.69L672.20,92.91L673.10,90.40L674.00,89.31L674.90,91.99L675.80,93.17L676.70,95.03L677.60,93.80L678.50,91.43L679.40,96.83L680.30,92.62L681.20,97.79L682.10,94.27L683.00,95.79L683.90,99.21L684.80,95.48L685.70,96.00L686.60,98.90L687.50,100.76L688.40,102.02L689.30,101.49L690.20,103.71L691.10,101.10L692.00,104.70L692.90,99.22L693.80,100.61L694.70,103.19L695.60,101.98L696.50,105.53L697.40,105.35L698.30,104.98L699.20,107.73L700.10,106.14L701.00,104.78L701.90,105.72L702.80,109.57L703.70,110.43L704.60,105.74L705.50,110.96L706.40,112.29L707.30,109.38L708.20,110.18L709.10,107.77L710.00,110.75L710.90,110.92L711.80,112.13L712.70,108.05L713.60,115.83L714.50,112.68L715.40,112.18L716.30,115.78L717.20,114.29L718.10,114.11L719.00,116.13L719.90,111.46L720.80,115.70L721.70,115.07L722.60,119.94L723.50,120.08L724.40,115.03L725.30,117.11L726.20,114.58L727.10,117.54L728.00,121.17L728.90,122.28L729.80,119.03L730.70,118.03L731.60,117.31L732.50,121.37L733.40,124.43L734.30,117.82L735.20,123.90L736.10,117.56L737.00,119.43L737.90,120.06L738.80,124.54L739.70,121.60L740.60,122.24L741.50,124.99L742.40,120.62L743.30,126.70L744.20,121.43L745.10,125.35L746.00,123.26L746.90,123.08L747.80,126.52L748.70,125.96L749.60,125.70L750.50,126.38L751.40,127.80L752.30,124.57L753.20,125.29L754.10,129.73L755.00,130.11L755.90,129.35L756.80,132.81L757.70,130.77L758.60,133.49L759.50,127.60L760.40,132.95L761.30,133.95L762.20,135.17L763.10,129.55L764.00,129.81L764.90,136.27L765.80,129.36L766.70,137.63L767.60,136.78L768.50,129.27L769.40,130.62L770.30,135.95L771.20,131.33L772.10,129.87L773.00,137.86L773.90,133.79L774.80,137.95L775.70,131.12L776.60,134.32L777.50,137.59L778.40,130.64L779.30,132.84L780.20,138.30L781.10,141.04L782.00,141.91L782.90,132.78L783.80,137.30L784.70,140.32L785.60,137.71L786.50,139.97L787.40,134.64L788.30,133.50L789.20,134.10L790.10,133.52L791.00,139.55L791.90,139.33L792.80,140.15L793.70,135.51L794.60,136.13L795.50,136.54L796.40,144.10L797.30,146.06L798.20,145.52L799.10,135.97L800.00,135.75L800.90,146.42L801.80,140.82L802.70,144.59L803.60,139.55L804.50,141.40" fill="none" stroke="#7519d5" stroke-width="1.25" stroke-linejoin="round"/>
<path d="M590.50,181.00C590.72,179.33 591.17,176.00 591.80,171.00C592.43,166.00 593.47,158.08 594.30,151.00C595.13,143.92 596.03,136.00 596.80,128.50C597.57,121.00 598.28,112.08 598.90,106.00C599.52,99.92 600.00,96.83 600.50,92.00C601.00,87.17 601.38,82.23 601.90,77.00C602.42,71.77 603.08,65.18 603.60,60.60C604.12,56.02 604.55,52.52 605.00,49.50C605.45,46.48 605.83,44.67 606.30,42.50C606.77,40.33 607.30,38.08 607.80,36.50C608.30,34.92 608.82,33.73 609.30,33.00C609.78,32.27 610.47,32.25 610.70,32.10L610.70,32.10L611.70,32.49L612.70,32.87L613.70,33.26L614.70,33.65L615.70,34.03L616.70,34.42L617.70,34.80L618.70,35.19L619.70,35.58L620.70,35.96L621.70,36.35L622.70,36.73L623.70,37.12L624.70,37.50L625.70,37.89L626.70,38.27L627.70,38.66L628.70,39.04L629.70,39.43L630.70,39.81L631.70,40.20L632.70,40.58L633.70,40.97L634.70,41.35L635.70,41.74L636.70,42.12L637.70,42.50L638.70,42.89L639.70,43.27L640.70,43.66L641.70,44.04L642.70,44.42L643.70,44.81L644.70,45.19L645.70,45.57L646.70,45.96L647.70,46.34L648.70,46.72L649.70,47.10L650.70,47.49L651.70,47.87L652.70,48.25L653.70,48.63L654.70,49.02L655.70,49.40L656.70,49.78L657.70,50.16L658.70,50.54L659.70,50.92L660.70,51.31L661.70,51.69L662.70,52.07L663.70,52.45L664.70,52.83L665.70,53.21L666.70,53.59L667.70,53.97L668.70,54.35L669.70,54.73L670.70,55.11L671.70,55.49L672.70,55.87L673.70,56.25L674.70,56.63L675.70,57.00L676.70,57.38L677.70,57.76L678.70,58.14L679.70,58.52L680.70,58.90L681.70,59.27L682.70,59.65L683.70,60.03L684.70,60.41L685.70,60.78L686.70,61.16L687.70,61.54L688.70,61.91L689.70,62.29L690.70,62.66L691.70,63.04L692.70,63.41L693.70,63.79L694.70,64.16L695.70,64.54L696.70,64.91L697.70,65.29L698.70,65.66L699.70,66.04L700.70,66.41L701.70,66.78L702.70,67.16L703.70,67.53L704.70,67.90L705.70,68.27L706.70,68.64L707.70,69.02L708.70,69.39L709.70,69.76L710.70,70.13L711.70,70.50L712.70,70.87L713.70,71.24L714.70,71.61L715.70,71.98L716.70,72.35L717.70,72.72L718.70,73.09L719.70,73.45L720.70,73.82L721.70,74.19L722.70,74.56L723.70,74.92L724.70,75.29L725.70,75.66L726.70,76.02L727.70,76.39L728.70,76.75L729.70,77.12L730.70,77.48L731.70,77.85L732.70,78.21L733.70,78.57L734.70,78.94L735.70,79.30L736.70,79.66L737.70,80.02L738.70,80.39L739.70,80.75L740.70,81.11L741.70,81.47L742.70,81.83L743.70,82.19L744.70,82.55L745.70,82.90L746.70,83.26L747.70,83.62L748.70,83.98L749.70,84.33L750.70,84.69L751.70,85.05L752.70,85.40L753.70,85.76L754.70,86.11L755.70,86.47L756.70,86.82L757.70,87.17L758.70,87.53L759.70,87.88L760.70,88.23L761.70,88.58L762.70,88.93L763.70,89.28L764.70,89.63L765.70,89.98L766.70,90.33L767.70,90.68L768.70,91.02L769.70,91.37L770.70,91.72L771.70,92.06L772.70,92.41L773.70,92.75L774.70,93.10L775.70,93.44L776.70,93.78L777.70,94.12L778.70,94.46L779.70,94.81L780.70,95.15L781.70,95.49L782.70,95.82L783.70,96.16L784.70,96.50L785.70,96.84L786.70,97.17L787.70,97.51L788.70,97.84L789.70,98.18L790.70,98.51L791.70,98.85L792.70,99.18L793.70,99.51L794.70,99.84L795.70,100.17L796.70,100.50L797.70,100.83L798.70,101.16L799.70,101.48L800.70,101.81L801.70,102.13L802.70,102.46L803.70,102.78L804.70,103.11L805.20,103.27" fill="none" stroke="#111" stroke-width="1.5" stroke-linejoin="round"/>
<path d="M590.50,181.00C590.72,179.33 591.17,176.00 591.80,171.00C592.43,166.00 593.47,158.08 594.30,151.00C595.13,143.92 596.03,136.00 596.80,128.50C597.57,121.00 598.28,112.08 598.90,106.00C599.52,99.92 600.00,96.83 600.50,92.00C601.00,87.17 601.38,82.23 601.90,77.00C602.42,71.77 603.08,65.18 603.60,60.60C604.12,56.02 604.55,52.52 605.00,49.50C605.45,46.48 605.83,44.67 606.30,42.50C606.77,40.33 607.30,38.08 607.80,36.50C608.30,34.92 608.82,33.73 609.30,33.00C609.78,32.27 610.47,32.25 610.70,32.10L610.70,32.10L611.70,32.92L612.70,33.73L613.70,34.54L614.70,35.34L615.70,36.14L616.70,36.93L617.70,37.72L618.70,38.51L619.70,39.28L620.70,40.06L621.70,40.82L622.70,41.59L623.70,42.35L624.70,43.10L625.70,43.85L626.70,44.59L627.70,45.33L628.70,46.07L629.70,46.80L630.70,47.52L631.70,48.24L632.70,48.96L633.70,49.67L634.70,50.38L635.70,51.08L636.70,51.78L637.70,52.47L638.70,53.17L639.70,53.85L640.70,54.53L641.70,55.21L642.70,55.89L643.70,56.56L644.70,57.22L645.70,57.88L646.70,58.54L647.70,59.20L648.70,59.85L649.70,60.50L650.70,61.14L651.70,61.78L652.70,62.42L653.70,63.05L654.70,63.68L655.70,64.31L656.70,64.93L657.70,65.55L658.70,66.17L659.70,66.78L660.70,67.39L661.70,68.00L662.70,68.60L663.70,69.20L664.70,69.80L665.70,70.40L666.70,70.99L667.70,71.58L668.70,72.17L669.70,72.75L670.70,73.33L671.70,73.91L672.70,74.49L673.70,75.06L674.70,75.63L675.70,76.20L676.70,76.77L677.70,77.33L678.70,77.89L679.70,78.45L680.70,79.01L681.70,79.56L682.70,80.12L683.70,80.67L684.70,81.21L685.70,81.76L686.70,82.30L687.70,82.85L688.70,83.39L689.70,83.92L690.70,84.46L691.70,84.99L692.70,85.52L693.70,86.05L694.70,86.58L695.70,87.11L696.70,87.63L697.70,88.15L698.70,88.67L699.70,89.19L700.70,89.71L701.70,90.22L702.70,90.74L703.70,91.25L704.70,91.76L705.70,92.26L706.70,92.77L707.70,93.28L708.70,93.78L709.70,94.28L710.70,94.78L711.70,95.28L712.70,95.77L713.70,96.27L714.70,96.76L715.70,97.25L716.70,97.74L717.70,98.23L718.70,98.72L719.70,99.20L720.70,99.69L721.70,100.17L722.70,100.65L723.70,101.13L724.70,101.61L725.70,102.08L726.70,102.56L727.70,103.03L728.70,103.50L729.70,103.97L730.70,104.44L731.70,104.91L732.70,105.37L733.70,105.84L734.70,106.30L735.70,106.76L736.70,107.22L737.70,107.68L738.70,108.13L739.70,108.59L740.70,109.04L741.70,109.49L742.70,109.94L743.70,110.39L744.70,110.84L745.70,111.28L746.70,111.73L747.70,112.17L748.70,112.61L749.70,113.05L750.70,113.48L751.70,113.92L752.70,114.35L753.70,114.79L754.70,115.22L755.70,115.65L756.70,116.07L757.70,116.50L758.70,116.92L759.70,117.35L760.70,117.77L761.70,118.19L762.70,118.60L763.70,119.02L764.70,119.43L765.70,119.85L766.70,120.26L767.70,120.67L768.70,121.07L769.70,121.48L770.70,121.88L771.70,122.28L772.70,122.68L773.70,123.08L774.70,123.48L775.70,123.87L776.70,124.26L777.70,124.66L778.70,125.04L779.70,125.43L780.70,125.82L781.70,126.20L782.70,126.58L783.70,126.96L784.70,127.34L785.70,127.71L786.70,128.08L787.70,128.46L788.70,128.83L789.70,129.19L790.70,129.56L791.70,129.92L792.70,130.28L793.70,130.64L794.70,131.00L795.70,131.35L796.70,131.71L797.70,132.06L798.70,132.41L799.70,132.75L800.70,133.10L801.70,133.44L802.70,133.78L803.70,134.12L804.70,134.45L805.20,134.62" fill="none" stroke="#111" stroke-width="1.5" stroke-linejoin="round"/>
<path d="M590.50,181.00C590.72,179.33 591.17,176.00 591.80,171.00C592.43,166.00 593.47,158.08 594.30,151.00C595.13,143.92 596.03,136.00 596.80,128.50C597.57,121.00 598.28,112.08 598.90,106.00C599.52,99.92 600.00,96.83 600.50,92.00C601.00,87.17 601.38,82.23 601.90,77.00C602.42,71.77 603.08,65.18 603.60,60.60C604.12,56.02 604.55,52.52 605.00,49.50C605.45,46.48 605.83,44.67 606.30,42.50C606.77,40.33 607.30,38.08 607.80,36.50C608.30,34.92 608.82,33.73 609.30,33.00C609.78,32.27 610.47,32.25 610.70,32.10L610.70,32.10L611.70,33.69L612.70,35.24L613.70,36.78L614.70,38.28L615.70,39.76L616.70,41.22L617.70,42.64L618.70,44.04L619.70,45.41L620.70,46.76L621.70,48.07L622.70,49.36L623.70,50.63L624.70,51.87L625.70,53.08L626.70,54.27L627.70,55.43L628.70,56.56L629.70,57.68L630.70,58.77L631.70,59.83L632.70,60.87L633.70,61.90L634.70,62.89L635.70,63.87L636.70,64.83L637.70,65.77L638.70,66.69L639.70,67.59L640.70,68.48L641.70,69.34L642.70,70.19L643.70,71.03L644.70,71.85L645.70,72.65L646.70,73.44L647.70,74.22L648.70,74.98L649.70,75.73L650.70,76.47L651.70,77.20L652.70,77.92L653.70,78.63L654.70,79.32L655.70,80.01L656.70,80.69L657.70,81.36L658.70,82.02L659.70,82.67L660.70,83.32L661.70,83.96L662.70,84.59L663.70,85.22L664.70,85.83L665.70,86.45L666.70,87.05L667.70,87.65L668.70,88.25L669.70,88.84L670.70,89.43L671.70,90.01L672.70,90.58L673.70,91.15L674.70,91.72L675.70,92.28L676.70,92.84L677.70,93.40L678.70,93.95L679.70,94.50L680.70,95.04L681.70,95.58L682.70,96.12L683.70,96.66L684.70,97.19L685.70,97.72L686.70,98.24L687.70,98.76L688.70,99.28L689.70,99.80L690.70,100.31L691.70,100.82L692.70,101.33L693.70,101.83L694.70,102.34L695.70,102.84L696.70,103.33L697.70,103.83L698.70,104.32L699.70,104.81L700.70,105.29L701.70,105.78L702.70,106.26L703.70,106.74L704.70,107.21L705.70,107.69L706.70,108.16L707.70,108.63L708.70,109.09L709.70,109.56L710.70,110.02L711.70,110.48L712.70,110.93L713.70,111.38L714.70,111.83L715.70,112.28L716.70,112.73L717.70,113.17L718.70,113.61L719.70,114.05L720.70,114.48L721.70,114.91L722.70,115.34L723.70,115.77L724.70,116.19L725.70,116.61L726.70,117.03L727.70,117.44L728.70,117.86L729.70,118.27L730.70,118.67L731.70,119.08L732.70,119.48L733.70,119.87L734.70,120.27L735.70,120.66L736.70,121.05L737.70,121.44L738.70,121.82L739.70,122.20L740.70,122.58L741.70,122.95L742.70,123.32L743.70,123.69L744.70,124.06L745.70,124.42L746.70,124.78L747.70,125.13L748.70,125.49L749.70,125.84L750.70,126.18L751.70,126.53L752.70,126.87L753.70,127.21L754.70,127.54L755.70,127.87L756.70,128.20L757.70,128.52L758.70,128.85L759.70,129.17L760.70,129.48L761.70,129.79L762.70,130.10L763.70,130.41L764.70,130.71L765.70,131.01L766.70,131.31L767.70,131.60L768.70,131.89L769.70,132.18L770.70,132.46L771.70,132.74L772.70,133.02L773.70,133.30L774.70,133.57L775.70,133.84L776.70,134.10L777.70,134.36L778.70,134.62L779.70,134.88L780.70,135.13L781.70,135.38L782.70,135.63L783.70,135.87L784.70,136.12L785.70,136.35L786.70,136.59L787.70,136.82L788.70,137.05L789.70,137.28L790.70,137.50L791.70,137.72L792.70,137.94L793.70,138.15L794.70,138.37L795.70,138.57L796.70,138.78L797.70,138.98L798.70,139.19L799.70,139.38L800.70,139.58L801.70,139.77L802.70,139.96L803.70,140.15L804.70,140.33L805.20,140.43" fill="none" stroke="#111" stroke-width="1.5" stroke-linejoin="round"/>
<rect x="585.8" y="26.2" width="219.4" height="157.4" fill="none" stroke="#111" stroke-width="1.3"/>
<line x1="585.8" y1="180.27228053766632" x2="588.3" y2="180.27228053766632" stroke="#111" stroke-width="1"/>
<line x1="585.8" y1="174.26385973116683" x2="588.3" y2="174.26385973116683" stroke="#111" stroke-width="1"/>
<line x1="585.8" y1="169.35462247621408" x2="588.3" y2="169.35462247621408" stroke="#111" stroke-width="1"/>
<line x1="585.8" y1="165.20392151911605" x2="588.3" y2="165.20392151911605" stroke="#111" stroke-width="1"/>
<line x1="585.8" y1="161.60842080649948" x2="588.3" y2="161.60842080649948" stroke="#111" stroke-width="1"/>
<line x1="585.8" y1="158.43696441476186" x2="588.3" y2="158.43696441476186" stroke="#111" stroke-width="1"/>
<line x1="585.8" y1="155.6" x2="590.8" y2="155.6" stroke="#111" stroke-width="1"/>
<line x1="585.8" y1="136.93614026883316" x2="588.3" y2="136.93614026883316" stroke="#111" stroke-width="1"/>
<line x1="585.8" y1="126.01848220738094" x2="588.3" y2="126.01848220738094" stroke="#111" stroke-width="1"/>
<line x1="585.8" y1="118.27228053766632" x2="588.3" y2="118.27228053766632" stroke="#111" stroke-width="1"/>
<line x1="585.8" y1="112.26385973116683" x2="588.3" y2="112.26385973116683" stroke="#111" stroke-width="1"/>
<line x1="585.8" y1="107.3546224762141" x2="588.3" y2="107.3546224762141" stroke="#111" stroke-width="1"/>
<line x1="585.8" y1="103.20392151911608" x2="588.3" y2="103.20392151911608" stroke="#111" stroke-width="1"/>
<line x1="585.8" y1="99.60842080649951" x2="588.3" y2="99.60842080649951" stroke="#111" stroke-width="1"/>
<line x1="585.8" y1="96.43696441476186" x2="588.3" y2="96.43696441476186" stroke="#111" stroke-width="1"/>
<line x1="585.8" y1="93.6" x2="590.8" y2="93.6" stroke="#111" stroke-width="1"/>
<line x1="585.8" y1="74.93614026883316" x2="588.3" y2="74.93614026883316" stroke="#111" stroke-width="1"/>
<line x1="585.8" y1="64.01848220738093" x2="588.3" y2="64.01848220738093" stroke="#111" stroke-width="1"/>
<line x1="585.8" y1="56.27228053766633" x2="588.3" y2="56.27228053766633" stroke="#111" stroke-width="1"/>
<line x1="585.8" y1="50.26385973116683" x2="588.3" y2="50.26385973116683" stroke="#111" stroke-width="1"/>
<line x1="585.8" y1="45.35462247621409" x2="588.3" y2="45.35462247621409" stroke="#111" stroke-width="1"/>
<line x1="585.8" y1="41.20392151911608" x2="588.3" y2="41.20392151911608" stroke="#111" stroke-width="1"/>
<line x1="585.8" y1="37.608420806499495" x2="588.3" y2="37.608420806499495" stroke="#111" stroke-width="1"/>
<line x1="585.8" y1="34.43696441476186" x2="588.3" y2="34.43696441476186" stroke="#111" stroke-width="1"/>
<line x1="585.8" y1="31.6" x2="590.8" y2="31.6" stroke="#111" stroke-width="1"/>
<line x1="607.5" y1="183.6" x2="607.5" y2="178" stroke="#111" stroke-width="1"/>
<line x1="668.17" y1="183.6" x2="668.17" y2="178" stroke="#111" stroke-width="1"/>
<line x1="728.84" y1="183.6" x2="728.84" y2="178" stroke="#111" stroke-width="1"/>
<line x1="789.51" y1="183.6" x2="789.51" y2="178" stroke="#111" stroke-width="1"/>
<text x="582.5" y="35.9" font-size="12.3" text-anchor="end" fill="#111" stroke="#111" stroke-width="0.3" font-weight="normal" >1</text>
<text x="582.5" y="97.89999999999999" font-size="12.3" text-anchor="end" fill="#111" stroke="#111" stroke-width="0.3" font-weight="normal" >0.1</text>
<text x="582.5" y="159.9" font-size="12.3" text-anchor="end" fill="#111" stroke="#111" stroke-width="0.3" font-weight="normal" >0.01</text>
<text x="607.5" y="199" font-size="12.3" text-anchor="middle" fill="#111" stroke="#111" stroke-width="0.3" font-weight="normal" >0</text>
<text x="668.17" y="199" font-size="12.3" text-anchor="middle" fill="#111" stroke="#111" stroke-width="0.3" font-weight="normal" >1</text>
<text x="728.84" y="199" font-size="12.3" text-anchor="middle" fill="#111" stroke="#111" stroke-width="0.3" font-weight="normal" >2</text>
<text x="789.51" y="199" font-size="12.3" text-anchor="middle" fill="#111" stroke="#111" stroke-width="0.3" font-weight="normal" >3</text>
<text x="696" y="211" font-size="12.6" text-anchor="middle" fill="#111" stroke="#111" stroke-width="0.3" font-weight="normal" >Time (ns)</text>
<text x="0" y="0" font-size="12.6" text-anchor="middle" fill="#111" stroke="#111" stroke-width="0.3" transform="translate(562.5,88.4) rotate(-90)">Normalized intensity</text>
<text x="783.5" y="89" font-size="12" text-anchor="middle" fill="#5f6e78" stroke="#5f6e78" stroke-width="0.3" font-weight="normal" >Conf</text>
<text x="759.2" y="106.4" font-size="12" text-anchor="middle" fill="#2d55ec" stroke="#2d55ec" stroke-width="0.3" font-weight="normal" >ZMW</text>
<text x="707.6" y="132.4" font-size="12" text-anchor="middle" fill="#7519d5" stroke="#7519d5" stroke-width="0.3" font-weight="normal" >NR</text>
<text x="649.5" y="160" font-size="12" text-anchor="middle" fill="#7f8d96" stroke="#7f8d96" stroke-width="0.3" font-weight="normal" >IRF</text>
<text x="555.5" y="19.2" font-size="15" text-anchor="start" fill="#111" stroke="#111" stroke-width="0.3" font-weight="bold" >c</text>
<rect x="126" y="234.6" width="25.0" height="16.0" fill="#99a9ad" stroke="#111" stroke-width="1.3"/>
<rect x="126" y="256.2" width="128.2" height="16.0" fill="#416ef5" stroke="#111" stroke-width="1.3"/>
<rect x="126" y="278.0" width="192.7" height="16.100000000000023" fill="#a535f3" stroke="#111" stroke-width="1.3"/>
<line x1="148.3" y1="242.6" x2="154.3" y2="242.6" stroke="#111" stroke-width="1.1"/>
<line x1="148.3" y1="240.4" x2="148.3" y2="244.79999999999998" stroke="#111" stroke-width="1.1"/>
<line x1="154.3" y1="240.4" x2="154.3" y2="244.79999999999998" stroke="#111" stroke-width="1.1"/>
<line x1="244.2" y1="264.1" x2="264.2" y2="264.1" stroke="#111" stroke-width="1.1"/>
<line x1="244.2" y1="261.90000000000003" x2="244.2" y2="266.3" stroke="#111" stroke-width="1.1"/>
<line x1="264.2" y1="261.90000000000003" x2="264.2" y2="266.3" stroke="#111" stroke-width="1.1"/>
<line x1="303.4" y1="285.8" x2="334.4" y2="285.8" stroke="#111" stroke-width="1.1"/>
<line x1="303.4" y1="283.6" x2="303.4" y2="288.0" stroke="#111" stroke-width="1.1"/>
<line x1="334.4" y1="283.6" x2="334.4" y2="288.0" stroke="#111" stroke-width="1.1"/>
<line x1="124.6" y1="231.4" x2="124.6" y2="297.6" stroke="#111" stroke-width="1.25"/>
<line x1="124.6" y1="231.4" x2="126.6" y2="231.4" stroke="#111" stroke-width="1"/>
<line x1="124.6" y1="253.1" x2="126.6" y2="253.1" stroke="#111" stroke-width="1"/>
<line x1="124.6" y1="274.8" x2="126.6" y2="274.8" stroke="#111" stroke-width="1"/>
<line x1="124.6" y1="296.5" x2="126.6" y2="296.5" stroke="#111" stroke-width="1"/>
<line x1="124.6" y1="298.5" x2="357.4" y2="298.5" stroke="#111" stroke-width="1.25"/>
<line x1="125.2" y1="298.5" x2="125.2" y2="304.0" stroke="#111" stroke-width="1"/>
<line x1="138.1" y1="298.5" x2="138.1" y2="301.3" stroke="#111" stroke-width="1"/>
<line x1="151.0" y1="298.5" x2="151.0" y2="301.3" stroke="#111" stroke-width="1"/>
<line x1="163.9" y1="298.5" x2="163.9" y2="301.3" stroke="#111" stroke-width="1"/>
<line x1="176.8" y1="298.5" x2="176.8" y2="301.3" stroke="#111" stroke-width="1"/>
<line x1="189.7" y1="298.5" x2="189.7" y2="304.0" stroke="#111" stroke-width="1"/>
<line x1="202.60000000000002" y1="298.5" x2="202.60000000000002" y2="301.3" stroke="#111" stroke-width="1"/>
<line x1="215.5" y1="298.5" x2="215.5" y2="301.3" stroke="#111" stroke-width="1"/>
<line x1="228.4" y1="298.5" x2="228.4" y2="301.3" stroke="#111" stroke-width="1"/>
<line x1="241.3" y1="298.5" x2="241.3" y2="301.3" stroke="#111" stroke-width="1"/>
<line x1="254.2" y1="298.5" x2="254.2" y2="304.0" stroke="#111" stroke-width="1"/>
<line x1="267.1" y1="298.5" x2="267.1" y2="301.3" stroke="#111" stroke-width="1"/>
<line x1="280.0" y1="298.5" x2="280.0" y2="301.3" stroke="#111" stroke-width="1"/>
<line x1="292.90000000000003" y1="298.5" x2="292.90000000000003" y2="301.3" stroke="#111" stroke-width="1"/>
<line x1="305.8" y1="298.5" x2="305.8" y2="301.3" stroke="#111" stroke-width="1"/>
<line x1="318.7" y1="298.5" x2="318.7" y2="304.0" stroke="#111" stroke-width="1"/>
<line x1="331.6" y1="298.5" x2="331.6" y2="301.3" stroke="#111" stroke-width="1"/>
<line x1="344.5" y1="298.5" x2="344.5" y2="301.3" stroke="#111" stroke-width="1"/>
<line x1="357.40000000000003" y1="298.5" x2="357.40000000000003" y2="301.3" stroke="#111" stroke-width="1"/>
<text x="121.5" y="246.5" font-size="12.3" text-anchor="end" fill="#111" stroke="#111" stroke-width="0.3" font-weight="normal" >Conf</text>
<text x="121.5" y="268.8" font-size="12.3" text-anchor="end" fill="#111" stroke="#111" stroke-width="0.3" font-weight="normal" >ZMW</text>
<text x="121.5" y="290" font-size="12.3" text-anchor="end" fill="#111" stroke="#111" stroke-width="0.3" font-weight="normal" >NR</text>
<text x="125.2" y="317.5" font-size="12.3" text-anchor="middle" fill="#111" stroke="#111" stroke-width="0.3" font-weight="normal" >0</text>
<text x="189.7" y="317.5" font-size="12.3" text-anchor="middle" fill="#111" stroke="#111" stroke-width="0.3" font-weight="normal" >0.5</text>
<text x="254.2" y="317.5" font-size="12.3" text-anchor="middle" fill="#111" stroke="#111" stroke-width="0.3" font-weight="normal" >1</text>
<text x="318.7" y="317.5" font-size="12.3" text-anchor="middle" fill="#111" stroke="#111" stroke-width="0.3" font-weight="normal" >1.5</text>
<text x="241.5" y="333" font-size="12.7" text-anchor="middle" fill="#111" stroke="#111" stroke-width="0.3" font-weight="normal" >Brightness per molecule (kcounts/s)</text>
<text x="62" y="246.6" font-size="15" text-anchor="start" fill="#111" stroke="#111" stroke-width="0.3" font-weight="bold" >d</text>
<path d="M169.3,240.5 L214,240.6 C224,240.8 230,244 234.5,250.5" fill="none" stroke="#111" stroke-width="1.1"/>
<path d="M236,253 L231.4,250 L235.6,248.2 Z" fill="#111"/>
<path d="M263.4,240.9 C280,242 293,252 300,265" fill="none" stroke="#111" stroke-width="1.1"/>
<path d="M301.3,268 L297.6,263.7 L302.2,262.8 Z" fill="#111"/>
<text x="240.5" y="251" font-size="12" fill="#111" stroke="#111" stroke-width="0.3"><tspan font-size="8.6">x</tspan>5</text>
<text x="294.5" y="251" font-size="12" fill="#111" stroke="#111" stroke-width="0.3"><tspan font-size="8.6">x</tspan>7.3</text>
<rect x="469.3" y="234.4" width="202.36010000000005" height="16.5" fill="#99a9ad" stroke="#111" stroke-width="1.3"/>
<rect x="469.3" y="256.3" width="72.60499999999996" height="16.30000000000001" fill="#416ef5" stroke="#111" stroke-width="1.3"/>
<rect x="469.3" y="278.1" width="57.69999999999999" height="16.399999999999977" fill="#a535f3" stroke="#111" stroke-width="1.3"/>
<line x1="667.2" y1="242.3" x2="676.4" y2="242.3" stroke="#111" stroke-width="1.1"/>
<line x1="667.2" y1="240.10000000000002" x2="667.2" y2="244.5" stroke="#111" stroke-width="1.1"/>
<line x1="676.4" y1="240.10000000000002" x2="676.4" y2="244.5" stroke="#111" stroke-width="1.1"/>
<line x1="535.5" y1="264.4" x2="548.4" y2="264.4" stroke="#111" stroke-width="1.1"/>
<line x1="535.5" y1="262.2" x2="535.5" y2="266.59999999999997" stroke="#111" stroke-width="1.1"/>
<line x1="548.4" y1="262.2" x2="548.4" y2="266.59999999999997" stroke="#111" stroke-width="1.1"/>
<line x1="521.2" y1="286.2" x2="533.9" y2="286.2" stroke="#111" stroke-width="1.1"/>
<line x1="521.2" y1="284.0" x2="521.2" y2="288.4" stroke="#111" stroke-width="1.1"/>
<line x1="533.9" y1="284.0" x2="533.9" y2="288.4" stroke="#111" stroke-width="1.1"/>
<line x1="467.4" y1="232" x2="467.4" y2="297.4" stroke="#111" stroke-width="1.25"/>
<line x1="467.4" y1="232.4" x2="469.4" y2="232.4" stroke="#111" stroke-width="1"/>
<line x1="467.4" y1="253.4" x2="469.4" y2="253.4" stroke="#111" stroke-width="1"/>
<line x1="467.4" y1="275.2" x2="469.4" y2="275.2" stroke="#111" stroke-width="1"/>
<line x1="467.4" y1="297" x2="469.4" y2="297" stroke="#111" stroke-width="1"/>
<line x1="467.4" y1="299" x2="699.5" y2="299" stroke="#111" stroke-width="1.25"/>
<line x1="468.3" y1="299" x2="468.3" y2="304.5" stroke="#111" stroke-width="1"/>
<line x1="478.815" y1="299" x2="478.815" y2="301.8" stroke="#111" stroke-width="1"/>
<line x1="489.33000000000004" y1="299" x2="489.33000000000004" y2="301.8" stroke="#111" stroke-width="1"/>
<line x1="499.845" y1="299" x2="499.845" y2="301.8" stroke="#111" stroke-width="1"/>
<line x1="510.36" y1="299" x2="510.36" y2="304.5" stroke="#111" stroke-width="1"/>
<line x1="520.875" y1="299" x2="520.875" y2="301.8" stroke="#111" stroke-width="1"/>
<line x1="531.39" y1="299" x2="531.39" y2="301.8" stroke="#111" stroke-width="1"/>
<line x1="541.905" y1="299" x2="541.905" y2="301.8" stroke="#111" stroke-width="1"/>
<line x1="552.4200000000001" y1="299" x2="552.4200000000001" y2="304.5" stroke="#111" stroke-width="1"/>
<line x1="562.9350000000001" y1="299" x2="562.9350000000001" y2="301.8" stroke="#111" stroke-width="1"/>
<line x1="573.45" y1="299" x2="573.45" y2="301.8" stroke="#111" stroke-width="1"/>
<line x1="583.965" y1="299" x2="583.965" y2="301.8" stroke="#111" stroke-width="1"/>
<line x1="594.48" y1="299" x2="594.48" y2="304.5" stroke="#111" stroke-width="1"/>
<line x1="604.995" y1="299" x2="604.995" y2="301.8" stroke="#111" stroke-width="1"/>
<line x1="615.51" y1="299" x2="615.51" y2="301.8" stroke="#111" stroke-width="1"/>
<line x1="626.0250000000001" y1="299" x2="626.0250000000001" y2="301.8" stroke="#111" stroke-width="1"/>
<line x1="636.54" y1="299" x2="636.54" y2="304.5" stroke="#111" stroke-width="1"/>
<line x1="647.0550000000001" y1="299" x2="647.0550000000001" y2="301.8" stroke="#111" stroke-width="1"/>
<line x1="657.57" y1="299" x2="657.57" y2="301.8" stroke="#111" stroke-width="1"/>
<line x1="668.085" y1="299" x2="668.085" y2="301.8" stroke="#111" stroke-width="1"/>
<line x1="678.6" y1="299" x2="678.6" y2="304.5" stroke="#111" stroke-width="1"/>
<line x1="689.115" y1="299" x2="689.115" y2="301.8" stroke="#111" stroke-width="1"/>
<line x1="699.6300000000001" y1="299" x2="699.6300000000001" y2="301.8" stroke="#111" stroke-width="1"/>
<text x="464.5" y="246.7" font-size="12.3" text-anchor="end" fill="#111" stroke="#111" stroke-width="0.3" font-weight="normal" >Conf</text>
<text x="464.5" y="268.8" font-size="12.3" text-anchor="end" fill="#111" stroke="#111" stroke-width="0.3" font-weight="normal" >ZMW</text>
<text x="464.5" y="290.5" font-size="12.3" text-anchor="end" fill="#111" stroke="#111" stroke-width="0.3" font-weight="normal" >NR</text>
<text x="468.3" y="317.8" font-size="12.3" text-anchor="middle" fill="#111" stroke="#111" stroke-width="0.3" font-weight="normal" >0</text>
<text x="510.36" y="317.8" font-size="12.3" text-anchor="middle" fill="#111" stroke="#111" stroke-width="0.3" font-weight="normal" >0.2</text>
<text x="552.4200000000001" y="317.8" font-size="12.3" text-anchor="middle" fill="#111" stroke="#111" stroke-width="0.3" font-weight="normal" >0.4</text>
<text x="594.48" y="317.8" font-size="12.3" text-anchor="middle" fill="#111" stroke="#111" stroke-width="0.3" font-weight="normal" >0.6</text>
<text x="636.54" y="317.8" font-size="12.3" text-anchor="middle" fill="#111" stroke="#111" stroke-width="0.3" font-weight="normal" >0.8</text>
<text x="678.6" y="317.8" font-size="12.3" text-anchor="middle" fill="#111" stroke="#111" stroke-width="0.3" font-weight="normal" >1</text>
<text x="584" y="333" font-size="12.65" text-anchor="middle" fill="#111" stroke="#111" stroke-width="0.3" font-weight="normal" >Fluorescence lifetime (ns)</text>
<text x="412.5" y="245.5" font-size="15" text-anchor="start" fill="#111" stroke="#111" stroke-width="0.3" font-weight="bold" >e</text>
<path d="M639.4,254.8 C625,259.5 612,261.5 598.5,262.5" fill="none" stroke="#111" stroke-width="1.1"/>
<path d="M595,262.8 L600.5,260 L600.6,265.4 Z" fill="#111"/>
<path d="M661.6,258.8 C640,275 615,285 587.5,287" fill="none" stroke="#111" stroke-width="1.1"/>
<path d="M584.1,287.3 L589.6,284.5 L589.8,289.9 Z" fill="#111"/>
<text x="615.8" y="273.8" font-size="12" text-anchor="middle" fill="#111" stroke="#111" stroke-width="0.3" font-weight="normal" >/2.8</text>
<text x="641" y="288.4" font-size="12" text-anchor="middle" fill="#111" stroke="#111" stroke-width="0.3" font-weight="normal" >/3.5</text>
</svg></body></html>
